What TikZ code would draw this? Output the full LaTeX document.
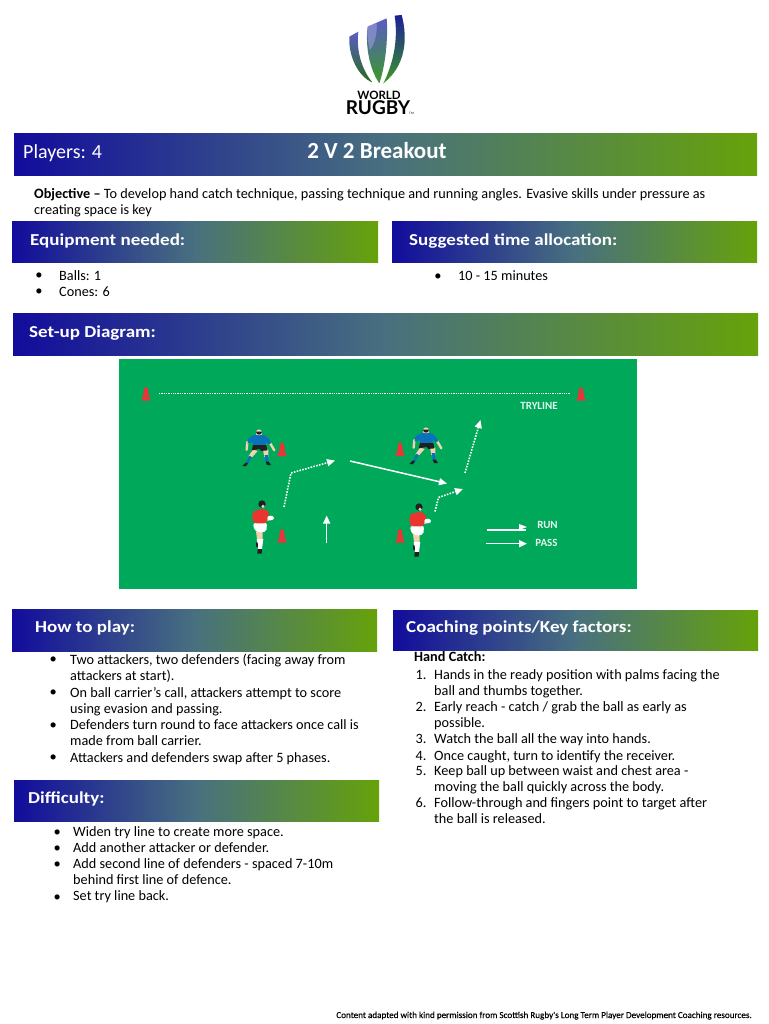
\documentclass[tikz,border=0pt]{standalone}
\usepackage{fontspec}
\setmainfont{Carlito}
\newfontfamily\logofont{Lato}
\newfontfamily\barfont[FakeStretch=1.14]{Carlito}
\newfontfamily\footfont[FakeBold=0.25]{Carlito}
\usetikzlibrary{arrows.meta}
\definecolor{barblue}{HTML}{120C9C}
\definecolor{barmid}{HTML}{48707F}
\definecolor{bargreen}{HTML}{66A20A}
\definecolor{pitch}{HTML}{00A859}
\definecolor{conered}{HTML}{E8353A}
\definecolor{kitblue}{HTML}{0A72BC}
\definecolor{kitred}{HTML}{E8352E}
\definecolor{skin}{HTML}{F3D2B0}
\definecolor{hair}{HTML}{231F20}
\definecolor{lgviolet}{HTML}{5A5CC4}
\definecolor{lgblue}{HTML}{1E1E96}
\definecolor{lggreen}{HTML}{3A9A28}
\tikzset{
  bar/.style={shading=axis,left color=barblue,right color=bargreen,middle color=barmid,shading angle=90,draw=none},
  bartext/.style={anchor=base west,yshift=-1.2pt,text=white,font=\barfont\fontsize{16.7}{20}\selectfont\bfseries,inner sep=0pt},
  txt/.style={anchor=base west,yshift=-0.5pt,inner sep=0pt,text=black,font=\fontsize{14.25}{16.3}\selectfont},
  bul/.style={anchor=center,yshift=-1.8pt,inner sep=0pt,text=black,font=\fontsize{14.5}{16}\selectfont},
  pitchtext/.style={text=white!90!pitch,inner sep=0pt,font=\fontsize{11}{12}\selectfont\bfseries},
  run/.style={draw=white,line width=1.5pt,-{Triangle[length=8pt,width=7pt]}},
  pass/.style={draw=white,line width=1.6pt,dash pattern=on 1.6pt off 1.3pt,-{Triangle[length=8pt,width=7pt,fill=white]}},
  conest/.style={fill=conered,draw=none}
}
\newcommand{\tl}[4]{\node[txt] (#1) at (#2,#3) {#4};}
\newcommand{\cone}[2]{\fill[conest,rounded corners=0.6pt] (#1-1.8,#2-6.5)--(#1+1.8,#2-6.5)--(#1+3.2,#2+3.5)--(#1+5,#2+6.5)--(#1-5,#2+6.5)--(#1-3.2,#2+3.5)--cycle;}
\newcommand{\defender}[2]{%
\begin{scope}[shift={(#1,#2)},scale=0.3333]
 \draw[skin,line width=2.4pt,line cap=round] (-35,-15)--(-37,8);
 \draw[skin,line width=2.4pt,line cap=round] (33,-12)--(46,10);
 \fill[skin] (-8,-32) rectangle (8,-45);
 \fill[skin] (-18,8)--(-4,12)--(-20,30)--(-32,28)--cycle;
 \fill[skin] (12,8)--(28,8)--(28,30)--(16,30)--cycle;
 \fill[kitblue] (-29,26)--(-22,30)--(-32,50)--(-39,48)--cycle;
 \fill[kitblue] (17,24)--(27,24)--(29,46)--(20,46)--cycle;
 \fill[hair] (-39,46)--(-33,50)--(-40,58)--(-50,57)--cycle;
 \fill[hair] (20,44)--(29,44)--(36,54)--(24,54)--cycle;
 \fill[kitblue,rounded corners=2pt] (-38,-14)--(-26,-32)--(-8,-37)--(10,-37)--(25,-31)--(38,-12)--(30,-6)--(20,-18)--(20,-4)--(-18,-4)--(-18,-18)--(-30,-8)--cycle;
 \fill[hair] (-18,-6)--(22,-6)--(25,10)--(6,12)--(2,6)--(-10,8)--(-22,10)--cycle;
 \fill[skin] (0,-44) circle (9);
 \fill[hair] (-9,-46) arc (180:0:9) -- cycle;
\end{scope}}
\newcommand{\attacker}[2]{%
\begin{scope}[shift={(#1,#2)},scale=0.3333]
 \fill[skin] (-12,25)--(8,25)--(8,55)--(-8,55)--cycle;
 \fill[white] (-10,48)--(10,48)--(6,78)--(-6,78)--cycle;
 \fill[hair] (-12,58)--(-7,58)--(-6,74)--(-12,70)--cycle;
 \fill[hair] (-7,78)--(6,78)--(5,92)--(-8,92)--cycle;
 \fill[white,rounded corners=2pt] (-20,0)--(21,0)--(19,26)--(-5,29)--(-19,18)--cycle;
 \fill[skin] (20,-17)--(32,-20)--(36,-10)--(22,-6)--cycle;
 \fill[skin] (-6,-40) rectangle (14,-30);
 \fill[kitred,rounded corners=3pt] (-24,-30)--(-14,-38)--(10,-43)--(26,-36)--(28,-18)--(20,-14)--(21,1)--(-20,1)--(-22,-12)--cycle;
 \fill[white] (32,-15) ellipse (10 and 7);
 \fill[hair] (6,-57) circle (11);
 \fill[skin] (9,-50) circle (5);
\end{scope}}
\begin{document}
\begin{tikzpicture}[x=1pt,y=-1pt]
\useasboundingbox (0,0) rectangle (768,1024);
\fill[white] (0,0) rectangle (768,1024);
% logo
\begin{scope}[shift={(320,0)},scale=0.3333]
 \shade[top color=lgviolet,middle color=lgviolet!70!lgblue,bottom color=lggreen!70!black] (88,110) -- (115,95) .. controls (108,150) and (125,210) .. (158,248) .. controls (115,230) and (85,170) .. (88,110) -- cycle;
 \shade[top color=lgviolet,middle color=lgblue,bottom color=lggreen] (143,80) -- (200,55) .. controls (205,120) and (195,200) .. (178,250) .. controls (150,210) and (135,140) .. (143,80) -- cycle;
 \fill[lgviolet!60!white,opacity=0.6] (143,80)--(170,68) .. controls (172,100) and (165,130) .. (150,150) .. controls (143,125) and (140,100) .. (143,80) -- cycle;
 \shade[top color=lgblue,middle color=lgblue!60!lggreen,bottom color=lggreen] (224,47) -- (245,45) .. controls (265,120) and (255,200) .. (190,250) .. controls (220,190) and (235,120) .. (224,47) -- cycle;
\end{scope}
\node[inner sep=0pt,font=\logofont\fontsize{11.5}{12}\selectfont\bfseries] (logoa) at (379,95) {WORLD};
\node[inner sep=0pt,font=\logofont\fontsize{19}{20}\selectfont\bfseries] (logob) at (378,108) {RUGBY};
\node[inner sep=0pt,font=\logofont\fontsize{3}{4}\selectfont] (logoc) at (411.5,113) {TM};
% bars
\path[bar] (14,134) rectangle (757,176);
\node[anchor=base west,inner sep=0pt,text=white,font=\fontsize{20}{22}\selectfont] (players) at (23,159) {Players: 4};
\node[anchor=base,inner sep=0pt,text=white,font=\fontsize{23}{25}\selectfont\bfseries] (title) at (377,159) {2 V 2 Breakout};
\tl{objective}{34}{198.3}{\textbf{Objective –} To develop hand catch technique, passing technique and running angles. Evasive skills under pressure as}
\tl{objective2}{34}{214.3}{creating space is key}
\path[bar] (12,222) rectangle (378,262);
\node[bartext] (equip) at (30,244.3) {Equipment needed:};
\path[bar] (392,222) rectangle (757,262);
\node[bartext] (suggest) at (409,244.3) {Suggested time allocation:};
\node[bul] (b1) at (39,274.5) {•};
\tl{t1}{59}{279.5}{Balls: 1}
\node[bul] (b2) at (39,290.5) {•};
\tl{t2}{59}{295.7}{Cones: 6}
\node[bul] (b3) at (438,275) {•};
\tl{t3}{458}{280}{10 - 15 minutes}
\path[bar] (13,313) rectangle (758,355);
\node[bartext] (setup) at (29,336) {Set-up Diagram:};
% pitch
\fill[pitch] (119,359) rectangle (637,589);
\cone{146}{394}\cone{581}{394}\cone{282}{449.5}\cone{400}{449.5}\cone{282}{536}\cone{400}{536}
\defender{259}{447}
\defender{426}{445}
\attacker{260}{523}
\attacker{417}{526}
\coordinate (tl) at (159,393.5);\coordinate (tr) at (570,393.5);
\draw[white,line width=0.9pt,dash pattern=on 1.3pt off 1pt] (tl)--(tr);
\coordinate (a1) at (284,507);\coordinate (a2) at (291,473);\coordinate (a3) at (335,460.5);
\draw[pass] (a1)--(a2)--(a3);
\coordinate (p1) at (350,461);\coordinate (p2) at (447,483.5);
\draw[run] (p1)--(p2);
\coordinate (c1) at (435,511.5);\coordinate (c2) at (438.5,497.5);\coordinate (c3) at (463,489);
\draw[pass] (c1)--(c2)--(c3);
\coordinate (d1) at (465,473);\coordinate (d2) at (480.5,420);
\draw[pass] (d1)--(d2);
\coordinate (u1) at (326.7,542.5);\coordinate (u2) at (326.7,515.5);
\draw[run] (u1)--(u2);
\coordinate (r1) at (486.5,530);\coordinate (r2) at (526,530);
\draw[white,line width=1.6pt] (r1)--(r2);
\fill[white] (519,524)--(527,527)--(519,530)--cycle;
\coordinate (s1) at (485.5,543.7);\coordinate (s2) at (527,543.7);
\draw[run] (s1)--(s2);
\node[pitchtext] (tryline) at (539,406) {TRYLINE};
\node[pitchtext] (runl) at (547.5,525) {RUN};
\node[pitchtext] (passl) at (546.5,543) {PASS};
% lower left
\path[bar] (12,609) rectangle (377,651);
\node[bartext] (how) at (35,631.7) {How to play:};
\node[bul] (h1b) at (53.3,658.3) {•};
\tl{h1}{70}{663.7}{Two attackers, two defenders (facing away from}
\tl{h1x}{70}{680}{attackers at start).}
\node[bul] (h2b) at (53.3,691.7) {•};
\tl{h2}{70}{696.5}{On ball carrier’s call, attackers attempt to score}
\tl{h2x}{70}{713}{using evasion and passing.}
\node[bul] (h3b) at (53.3,724) {•};
\tl{h3}{70}{729.3}{Defenders turn round to face attackers once call is}
\tl{h3x}{70}{745.3}{made from ball carrier.}
\node[bul] (h4b) at (53.3,756.7) {•};
\tl{h4}{70}{761.5}{Attackers and defenders swap after 5 phases.}
\path[bar] (14,780) rectangle (379,821);
\node[bartext] (diff) at (28,802.3) {Difficulty:};
\node[bul] (d1b) at (57.3,831.7) {•};
\tl{dt1}{73}{836}{Widen try line to create more space.}
\node[bul] (d2b) at (57.3,847.7) {•};
\tl{dt2}{73}{852}{Add another attacker or defender.}
\node[bul] (d3b) at (57.3,863.7) {•};
\tl{dt3}{73}{868}{Add second line of defenders - spaced 7-10m}
\tl{dt3x}{73}{884}{behind first line of defence.}
\node[bul] (d4b) at (57.3,896.3) {•};
\tl{dt4}{73}{900.3}{Set try line back.}
% lower right
\path[bar] (393,610) rectangle (758,650);
\node[bartext] (coach) at (406,631.7) {Coaching points/Key factors:};
\node[txt,font=\fontsize{14.25}{16.3}\selectfont\bfseries] (hc) at (414,661) {Hand Catch:};
\tl{n1}{415.5}{679}{1.}\tl{c1t}{434}{679}{Hands in the ready position with palms facing the}
\tl{c1x}{434}{695}{ball and thumbs together.}
\tl{n2}{415.5}{711}{2.}\tl{c2t}{434}{711}{Early reach - catch / grab the ball as early as}
\tl{c2x}{434}{727}{possible.}
\tl{n3}{415.5}{743}{3.}\tl{c3t}{434}{743}{Watch the ball all the way into hands.}
\tl{n4}{415.5}{759.7}{4.}\tl{c4t}{434}{759.7}{Once caught, turn to identify the receiver.}
\tl{n5}{415.5}{775}{5.}\tl{c5t}{434}{775}{Keep ball up between waist and chest area -}
\tl{c5x}{434}{791}{moving the ball quickly across the body.}
\tl{n6}{415.5}{807}{6.}\tl{c6t}{434}{807}{Follow-through and fingers point to target after}
\tl{c6x}{434}{823}{the ball is released.}
\node[anchor=base east,inner sep=0pt,text=black,font=\footfont\fontsize{9.1}{10}\selectfont] (foot) at (752,1018) {Content adapted with kind permission from Scottish Rugby's Long Term Player Development Coaching resources.};
\end{tikzpicture}
\end{document}
